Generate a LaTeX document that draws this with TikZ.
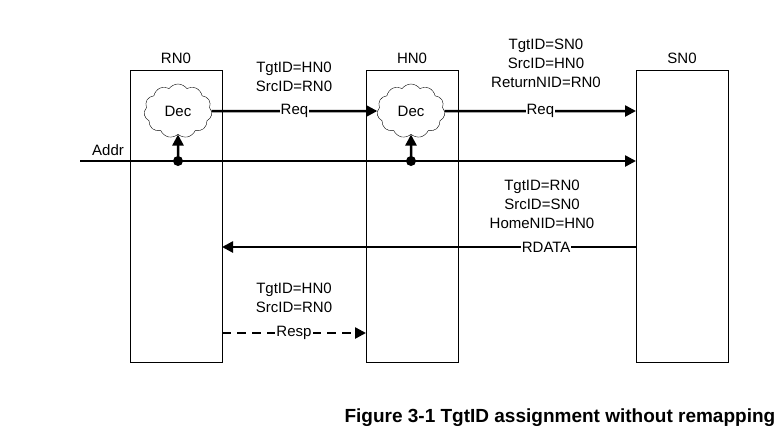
\documentclass[tikz,border=0pt]{standalone}
\usepackage{fontspec}
\setmainfont{Liberation Sans}
\usetikzlibrary{shapes.symbols,arrows.meta}
\begin{document}
\begin{tikzpicture}[x=1pt,y=-1pt,font=\fontsize{15}{19}\selectfont,
  col/.style={draw,thin,minimum width=92pt,minimum height=292pt,anchor=north west},
  dec/.style={cloud,draw,thin,cloud puffs=11,cloud puff arc=110,aspect=1.3,minimum width=68pt,minimum height=54pt,inner sep=0pt},
  msg/.style={line width=2.5pt,-{Triangle[length=11pt,width=11pt]}},
  lbl/.style={fill=white,inner sep=1pt},
  txt/.style={align=center,inner sep=0pt}]
\useasboundingbox (0,0) rectangle (775,437);
\node[col] (rn) at (130,70) {};
\node[col] (hn) at (366,70) {};
\node[col] (sn) at (636,70) {};
\node[txt] (rnl) at (176,58) {RN0};
\node[txt] (hnl) at (412,58) {HN0};
\node[txt] (snl) at (682,58) {SN0};
\node[dec] (d1) at (178,111) {Dec};
\node[dec] (d2) at (411,111) {Dec};
\coordinate (sr) at (636,111);
\draw[msg] (d1.east) -- (d2.west) node[midway,lbl] {Req};
\draw[msg] (d2.east) -- (sr) node[midway,lbl] {Req};
\node[txt] (t1) at (294,77) {TgtID=HN0\\SrcID=RN0};
\node[txt] (t2) at (546,63) {TgtID=SN0\\SrcID=HN0\\ReturnNID=RN0};
\coordinate (a0) at (80,161);
\coordinate (a1) at (636,161);
\draw[msg] (a0) -- (a1);
\node[anchor=south west,txt] (al) at (92,156) {Addr};
\coordinate (p1) at (178,161);
\coordinate (p2) at (411,161);
\fill (p1) circle (5pt) (p2) circle (5pt);
\draw[msg] (p1) -- (d1.south);
\draw[msg] (p2) -- (d2.south);
\node[txt] (t3) at (542,204) {TgtID=RN0\\SrcID=SN0\\HomeNID=HN0};
\coordinate (r0) at (636,247);
\coordinate (r1) at (222,247);
\draw[msg] (r0) -- (r1) node[pos=0.217,lbl] {RDATA};
\node[txt] (t4) at (294,298) {TgtID=HN0\\SrcID=RN0};
\coordinate (s0) at (222,333);
\coordinate (s1) at (366,333);
\draw[msg,dash pattern=on 9pt off 6pt] (s0) -- (s1) node[midway,lbl] {Resp};
\node[anchor=west,font=\fontsize{19}{22}\selectfont\bfseries] (cap) at (341,418) {Figure 3-1 TgtID assignment without remapping};
\end{tikzpicture}
\end{document}
